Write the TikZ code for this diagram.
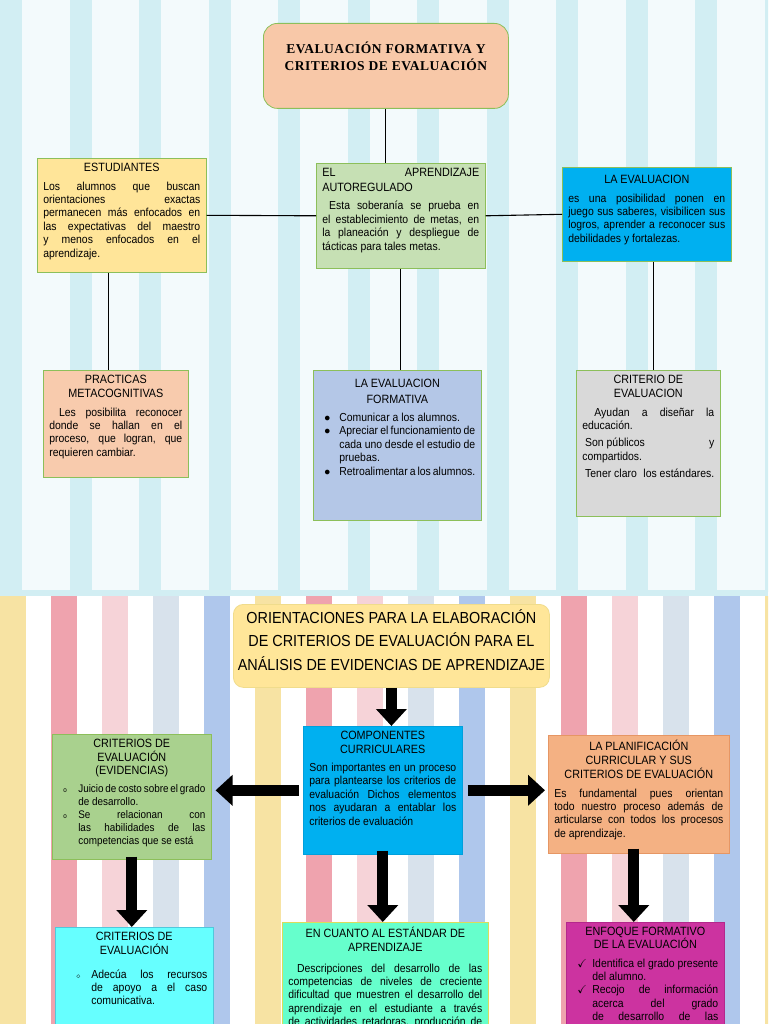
\documentclass[tikz,border=0pt]{standalone}
\usepackage{amssymb}
\usepackage{fontspec}
\setmainfont{Liberation Sans}[FakeStretch=0.9]
\newfontfamily\ttlfont{Liberation Serif}[LetterSpace=4]
\usetikzlibrary{arrows.meta}
\definecolor{bgA}{HTML}{F3FAFC}
\definecolor{bgB}{HTML}{D2EEF3}
\definecolor{sY}{HTML}{F7E3A3}
\definecolor{sR}{HTML}{EFA3AE}
\definecolor{sP}{HTML}{F6D3D8}
\definecolor{sL}{HTML}{D8E2EC}
\definecolor{sB}{HTML}{AFC7EC}
\definecolor{bord}{HTML}{8CBF5A}
\definecolor{cT1}{HTML}{F8C8A8}
\definecolor{cEst}{HTML}{FFE599}
\definecolor{cApr}{HTML}{C6E0B4}
\definecolor{cEva}{HTML}{00B0F0}
\definecolor{cPra}{HTML}{F8CBAD}
\definecolor{cEvf}{HTML}{B4C7E7}
\definecolor{cCri}{HTML}{D9D9D9}
\definecolor{cT2}{HTML}{FFE699}
\definecolor{bT2}{HTML}{F0DC8C}
\definecolor{bCom}{HTML}{00A0DC}
\definecolor{cCev}{HTML}{A9D18E}
\definecolor{cPla}{HTML}{F4B183}
\definecolor{bPla}{HTML}{E69664}
\definecolor{cCv}{HTML}{66FFFF}
\definecolor{bCv}{HTML}{50C8DC}
\definecolor{cEnc}{HTML}{66FFCC}
\definecolor{bEnc}{HTML}{DCDC5A}
\definecolor{cEnf}{HTML}{CC33A0}
\definecolor{bEnf}{HTML}{B4288C}
\newcommand{\ttl}[1]{{\centering #1\par}\vspace{5pt}}
\newcommand{\itm}[2]{\par\hangindent=20pt\hangafter=1\noindent\hbox to 20pt{\hskip5pt #1\hfill}#2}
\newcommand{\hb}[2]{\vbox to #1pt{\hyphenpenalty=10000\exhyphenpenalty=10000 #2\par\vfill}}
\tikzset{
 box/.style={draw=#1, line width=0.6pt, anchor=north west, inner xsep=6pt, inner ysep=5pt,
   align=justify, font=\fontsize{11.6}{13.4}\selectfont},
 box/.default=bord,
 conn/.style={line width=1.1pt, black},
 big/.style={line width=11pt, -{Triangle[width=30pt,length=17pt]}}
}
\begin{document}
\begin{tikzpicture}[x=1pt,y=-1pt]
\useasboundingbox (0,0) rectangle (768,1024);
\clip (0,0) rectangle (768,1024);
% top background
\fill[bgA] (0,0) rectangle (768,592);
\foreach \i in {0,...,11} {\fill[bgB] (\i*69.5,0) rectangle (\i*69.5+22,592);}
% bottom background
\fill[white] (0,592) rectangle (768,1024);
\foreach \i in {0,...,15} {
 \pgfmathsetmacro\xx{\i*51}
 \pgfmathtruncatemacro\k{mod(\i,5)}
 \ifcase\k \def\cc{sY}\or \def\cc{sR}\or \def\cc{sP}\or \def\cc{sL}\or \def\cc{sB}\fi
 \fill[\cc] (\xx,596) rectangle (\xx+26,1024);}
\fill[bgB] (0,590) rectangle (768,596);
% ---------- top part
\node[draw=bord, line width=0.8pt, fill=cT1, rounded corners=14pt,
  anchor=north west, inner sep=0pt, align=center,
  font=\ttlfont\bfseries\fontsize{13.5}{17}\selectfont] (t1) at (263,23)
  {\vbox to 85pt{\hsize=245pt\vskip19pt\centering EVALUACIÓN FORMATIVA Y\\ CRITERIOS DE EVALUACIÓN\par\vfill}};
\node[box, fill=cEst, text width=157pt] (est) at (37,158)
 {\hb{104}{\ttl{\fontsize{12}{12}\selectfont ESTUDIANTES}Los alumnos que buscan orientaciones \hfill exactas permanecen más enfocados en las expectativas del maestro y menos enfocados en el aprendizaje.}};
\node[box, fill=cApr, text width=157pt] (apr) at (316,163)
 {\hb{95}{{\fontsize{12}{15}\selectfont EL \hfill APRENDIZAJE\\ AUTOREGULADO\par}\vspace{5pt}\ Esta soberanía se prueba en el establecimiento de metas, en la planeación y despliegue de tácticas para tales metas.}};
\node[box, fill=cEva, text width=157pt] (eva) at (562,167)
 {\hb{84}{\vspace{3pt}\ttl{\fontsize{12}{12}\selectfont LA EVALUACION}es una posibilidad ponen en juego sus saberes, visibilicen sus logros, aprender a reconocer sus debilidades y fortalezas.}};
\node[box, fill=cPra, text width=133pt] (pra) at (43,370)
 {\hb{97}{\ttl{\fontsize{12}{14}\selectfont PRACTICAS\\ METACOGNITIVAS}\ Les posibilita reconocer donde se hallan en el proceso, que logran, que requieren cambiar.}};
\node[box, fill=cEvf, text width=156pt] (evf) at (313,370)
 {\hb{140}{\vspace{4pt}\ttl{\fontsize{12}{15.5}\selectfont LA EVALUACION\\ FORMATIVA}\itm{$\bullet$}{Comunicar a los alumnos.}\itm{$\bullet$}{Apreciar el funcionamiento de cada uno desde el estudio de pruebas.}\itm{$\bullet$}{Retroalimentar a los alumnos.}}};
\node[box, fill=cCri, text width=132pt] (cri) at (576,370)
 {\hb{136}{\ttl{\fontsize{12}{14}\selectfont CRITERIO DE\\ EVALUACION}\ Ayudan a diseñar la educación.\par\vspace{4pt}\ Son públicos \hfill y compartidos.\par\vspace{4pt}\ Tener claro \hfill los estándares.}};
\draw[conn] (t1.south) -- (t1.south |- apr.north);
\draw[conn] (est.east) -- (apr.west);
\draw[conn] (apr.east) -- (eva.west);
\draw[conn] ([xshift=-13pt]est.south) -- ([xshift=-13pt]est.south |- pra.north);
\draw[conn] (apr.south) -- (apr.south |- evf.north);
\draw[conn] ([xshift=7pt]eva.south) -- ([xshift=7pt]eva.south |- cri.north);
% ---------- bottom part
\node[draw=bT2, line width=0.8pt, fill=cT2, rounded corners=10pt,
  anchor=north west, inner sep=0pt, align=center,
  font=\fontsize{16}{23.5}\selectfont] (t2) at (233,604)
  {\vbox to 83pt{\hsize=316pt\vskip5pt\centering ORIENTACIONES PARA LA ELABORACIÓN\\ DE CRITERIOS DE EVALUACIÓN PARA EL\\ ANÁLISIS DE EVIDENCIAS DE APRENDIZAJE\par\vfill}};
\node[box=bCom, fill=cEva, text width=147pt] (com) at (303,726)
 {\hb{118}{\ttl{\fontsize{12}{13.5}\selectfont COMPONENTES\\ CURRICULARES}Son importantes en un proceso para plantearse los criterios de evaluación Dichos elementos nos ayudaran a entablar los criterios de evaluación}};
\node[box=bord, fill=cCev, text width=147pt, font=\fontsize{11}{13}\selectfont] (cev) at (52,734)
 {\hb{115}{\ttl{\fontsize{12}{13.5}\selectfont CRITERIOS DE\\ EVALUACIÓN\\ (EVIDENCIAS)}\itm{\scriptsize o}{Juicio de costo sobre el grado de desarrollo.}\itm{\scriptsize o}{Se relacionan con las habilidades de las competencias que se está}}};
\node[box=bPla, fill=cPla, text width=169pt] (pla) at (548,735)
 {\hb{108}{\ttl{\fontsize{12}{14}\selectfont LA PLANIFICACIÓN\\ CURRICULAR Y SUS\\ CRITERIOS DE EVALUACIÓN}Es fundamental pues orientan todo nuestro proceso además de articularse con todos los procesos de aprendizaje.}};
\node[box=bCv, fill=cCv, text width=146pt] (cv2) at (55,927)
 {\hb{100}{\ttl{\fontsize{12}{14}\selectfont CRITERIOS DE\\ EVALUACIÓN}\vspace{5pt}\leftskip=10pt\itm{\scriptsize$\diamond$}{Adecúa los recursos de apoyo a el caso comunicativa.}}};
\node[box=bEnc, fill=cEnc, text width=194pt] (enc) at (282,922)
 {\hb{110}{\ttl{\fontsize{12}{14}\selectfont EN CUANTO AL ESTÁNDAR DE\\ APRENDIZAJE}\vspace{2pt}\ Descripciones del desarrollo de las competencias de niveles de creciente dificultad que muestren el desarrollo del aprendizaje en el estudiante a través de actividades retadoras, producción de evidencias y desempeños.}};
\node[box=bEnf, fill=cEnf, text width=146pt] (enf) at (566,922)
 {\hb{110}{\ttl{\fontsize{12}{13}\selectfont ENFOQUE FORMATIVO\\ DE LA EVALUACIÓN}\itm{$\checkmark$}{Identifica el grado presente del alumno.}\itm{$\checkmark$}{Recojo de información acerca del grado de desarrollo de las competencias.}}};
\draw[big] (t2.south) -- (t2.south |- com.north);
\draw[big] ([xshift=-4pt]com.west) -- ([xshift=4pt]com.west -| cev.east);
\draw[big] ([xshift=5pt]com.east) -- ([xshift=-3pt]com.east -| pla.west);
\draw[big] ([yshift=3pt]cev.south) -- (cev.south |- cv2.north);
\draw[big] ([yshift=4pt]com.south) -- (com.south |- enc.north);
\draw[big] ([xshift=-5pt,yshift=5pt]pla.south) -- ([xshift=-5pt]pla.south |- enf.north);
\end{tikzpicture}
\end{document}
